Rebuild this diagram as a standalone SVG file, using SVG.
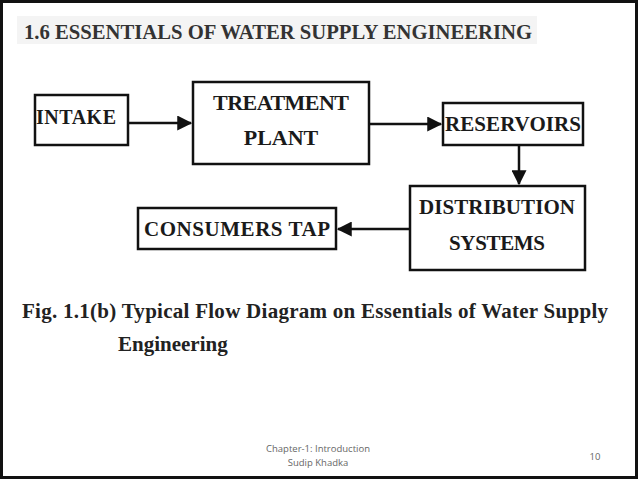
<svg xmlns="http://www.w3.org/2000/svg" width="638" height="479" viewBox="0 0 638 479">
<style>
.b{fill:#fff;stroke:#111;stroke-width:2.5}
.t{font-family:"Liberation Serif",serif;font-weight:bold;fill:#1a1a1a;text-anchor:middle}
.c{stroke:#111;stroke-width:2.5;fill:none;marker-end:url(#a)}
.f{font-family:"Open Sans","Liberation Sans",sans-serif;fill:#666;font-size:9.5px;text-anchor:middle}
</style>
<defs><marker id="a" markerWidth="6" markerHeight="6" refX="5.5" refY="3" orient="auto" markerUnits="strokeWidth"><path d="M0,0L6,3L0,6z" fill="#111"/></marker></defs>
<rect x="1.5" y="1.5" width="635" height="476" fill="#fff" stroke="#111" stroke-width="3"/>
<rect x="17" y="16" width="520" height="28" fill="#f4f4f4"/>
<text x="24" y="39" font-family="Liberation Serif,serif" font-weight="bold" font-size="20" fill="#333" textLength="508" lengthAdjust="spacingAndGlyphs">1.6 ESSENTIALS OF WATER SUPPLY ENGINEERING</text>
<g id="intake"><rect class="b" x="35" y="95" width="93" height="50"/><text class="t" x="76" y="124" font-size="20" textLength="80">INTAKE</text></g>
<g id="treatment"><rect class="b" x="193" y="82" width="176" height="82"/><text class="t" x="281" y="110" font-size="22" textLength="136">TREATMENT</text><text class="t" x="281" y="145" font-size="22">PLANT</text></g>
<g id="reservoirs"><rect class="b" x="443" y="103" width="140" height="42"/><text class="t" x="513" y="131" font-size="21" textLength="136">RESERVOIRS</text></g>
<g id="distribution"><rect class="b" x="410" y="186" width="175" height="84"/><text class="t" x="497" y="214" font-size="21" textLength="156">DISTRIBUTION</text><text class="t" x="497" y="250" font-size="21" textLength="96">SYSTEMS</text></g>
<g id="consumers"><rect class="b" x="138" y="208" width="198" height="41"/><text class="t" x="237" y="236" font-size="21" textLength="186">CONSUMERS TAP</text></g>
<g id="connectors">
<path class="c" d="M128,123H191"/>
<path class="c" d="M369,124H441"/>
<path class="c" d="M519,145V184"/>
<path class="c" d="M410,229H338"/>
</g>
<text x="22" y="318" font-family="Liberation Serif,serif" font-weight="bold" font-size="21" fill="#222" textLength="586">Fig. 1.1(b) Typical Flow Diagram on Essentials of Water Supply</text>
<text x="118" y="351" font-family="Liberation Serif,serif" font-weight="bold" font-size="21" fill="#222">Engineering</text>
<text class="f" x="318" y="452">Chapter-1: Introduction</text>
<text class="f" x="318" y="466">Sudip Khadka</text>
<text class="f" x="595" y="460">10</text>
</svg>
